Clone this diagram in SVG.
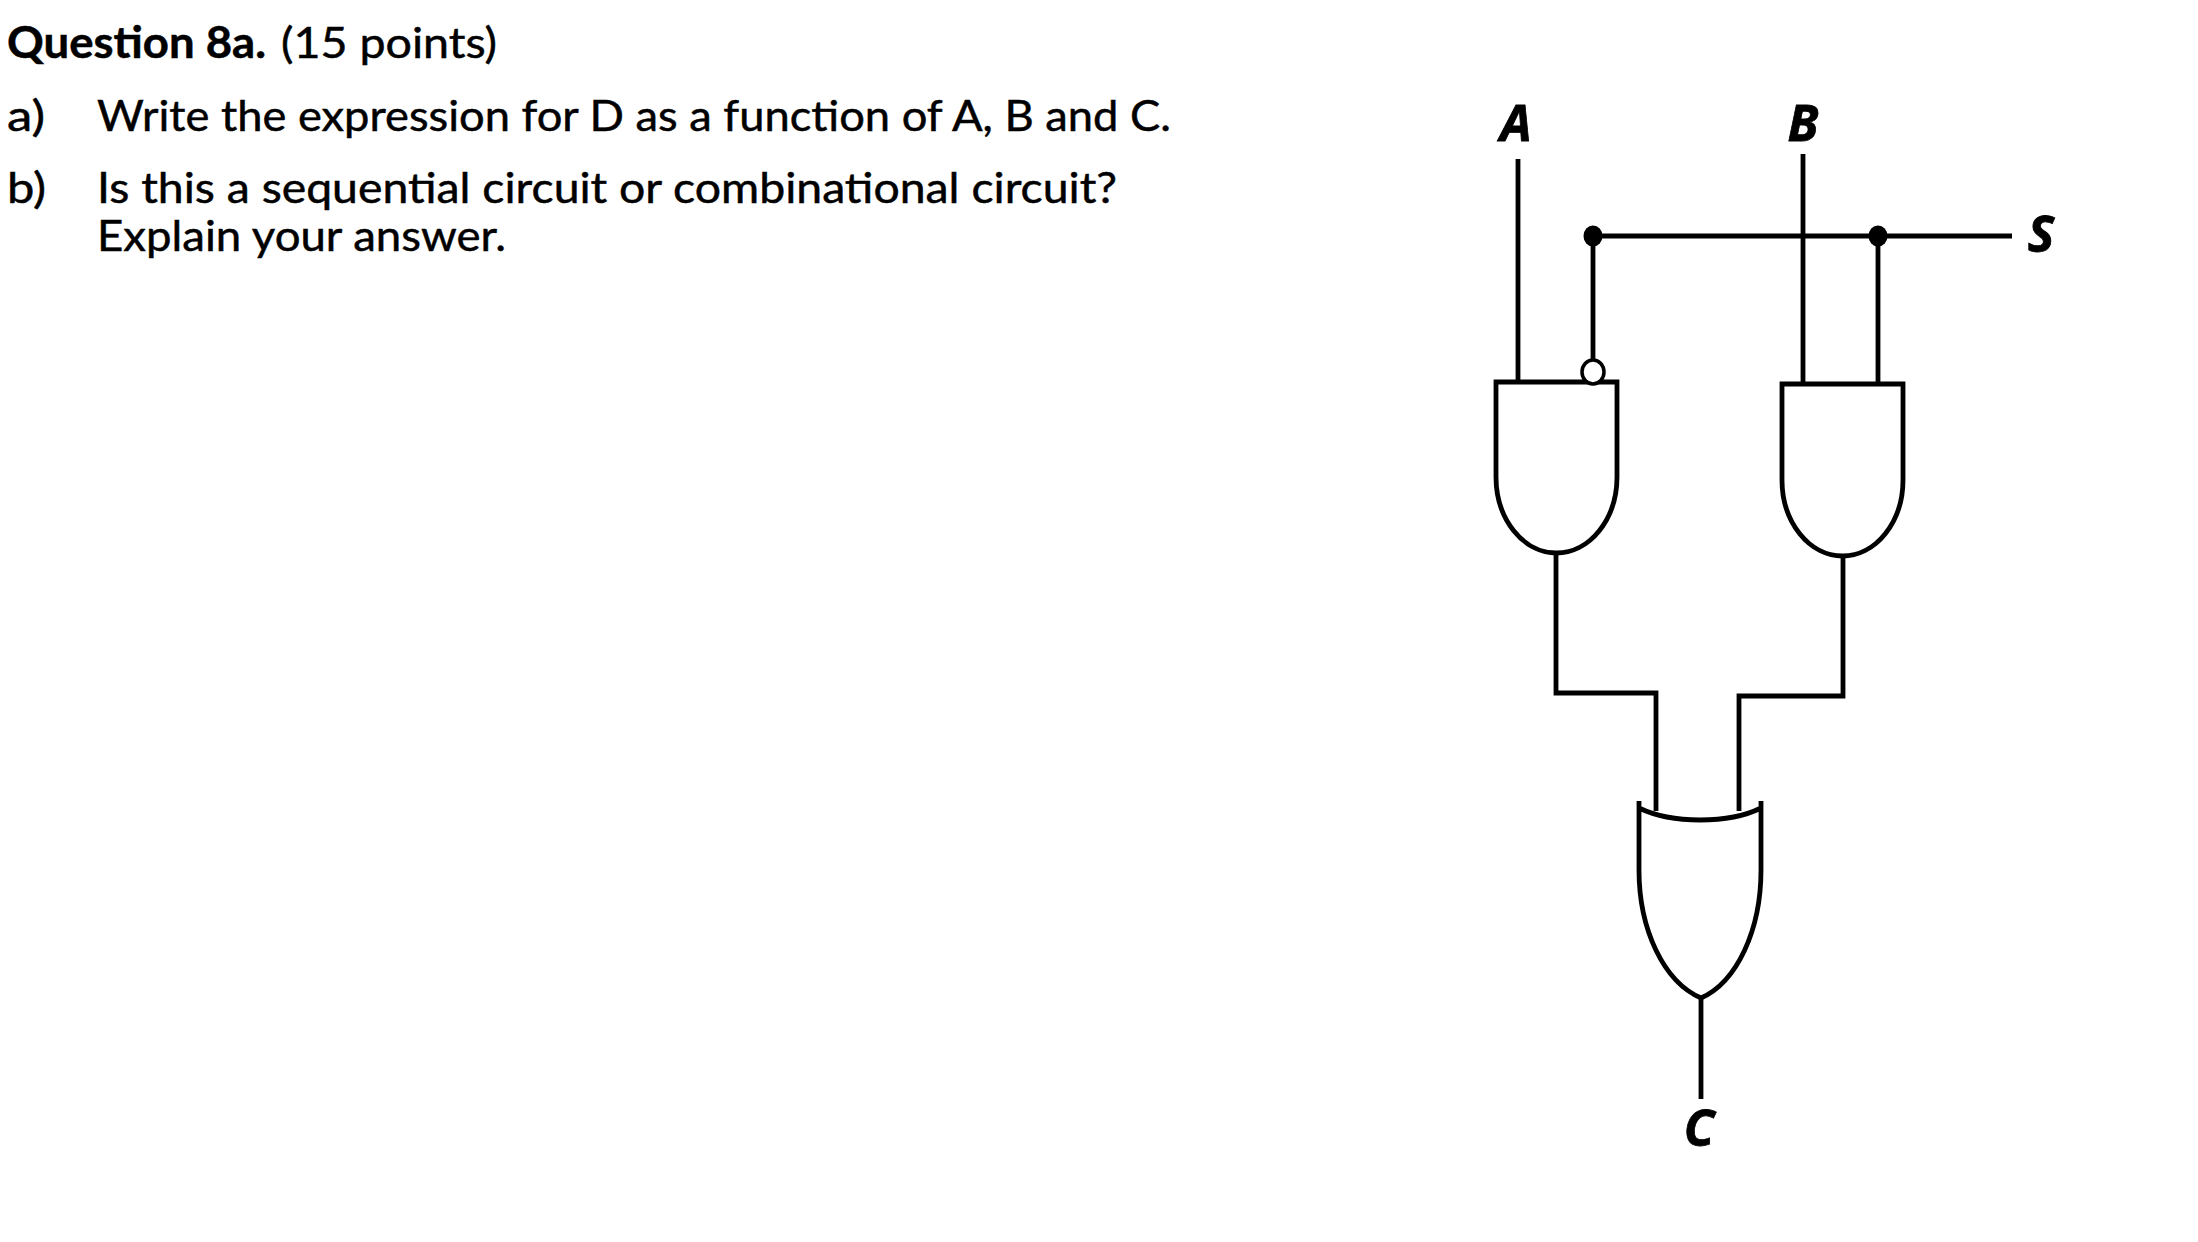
<svg xmlns="http://www.w3.org/2000/svg" width="2198" height="1242" viewBox="0 0 2198 1242">
<style>
.t{font-family:Lato,"Liberation Sans",sans-serif;font-size:43px;fill:#000;stroke:#000;stroke-width:0.500}
.b{font-weight:700}
.l{font-family:"Open Sans","Liberation Sans",sans-serif;font-size:50px;font-weight:700;font-style:italic;fill:#000;stroke:#000;stroke-width:0.800;text-anchor:middle}
.w{fill:none;stroke:#000;stroke-width:4.800;stroke-linejoin:miter;stroke-linecap:butt}
.g{fill:#fff;stroke:#000;stroke-width:4.800;stroke-linejoin:miter}
</style>
<rect width="2198" height="1242" fill="#fff"/>
<g id="question">
<text class="t b" x="7" y="58" textLength="259" lengthAdjust="spacingAndGlyphs">Question 8a.</text>
<text class="t" x="281" y="58" textLength="216" lengthAdjust="spacingAndGlyphs">(15 points)</text>
<text class="t" x="7" y="131" textLength="38" lengthAdjust="spacingAndGlyphs">a)</text>
<text class="t" x="97" y="131" textLength="1074" lengthAdjust="spacingAndGlyphs">Write the expression for D as a function of A, B and C.</text>
<text class="t" x="7" y="203" textLength="39" lengthAdjust="spacingAndGlyphs">b)</text>
<text class="t" x="97" y="203" textLength="1020" lengthAdjust="spacingAndGlyphs">Is this a sequential circuit or combinational circuit?</text>
<text class="t" x="97" y="251" textLength="409" lengthAdjust="spacingAndGlyphs">Explain your answer.</text>
</g>
<g id="connectors">
<path class="w" d="M1518 159V382"/>
<path class="w" d="M1593 236V360"/>
<path class="w" d="M1593 236H2012"/>
<path class="w" d="M1803 154V384"/>
<path class="w" d="M1878 236V384"/>
<path class="w" d="M1556 553V693H1656V811"/>
<path class="w" d="M1843 556V696H1739V811"/>
<path class="w" d="M1701 998V1099"/>
</g>
<g id="gate-and-1">
<path class="g" d="M1496 382H1617V477A60.500 76 0 0 1 1496 477Z"/>
<ellipse id="bubble" cx="1593" cy="372" rx="11" ry="12" fill="#fff" stroke="#000" stroke-width="3.500"/>
</g>
<g id="gate-and-2">
<path class="g" d="M1782 384H1903V480A60.500 76 0 0 1 1782 480Z"/>
</g>
<g id="gate-or">
<path class="g" d="M1639 801V808Q1664 820 1700 820Q1737 820 1761 808V801V870C1761 930 1737 982 1701 998C1664 982 1639 930 1639 870Z"/>
</g>
<g id="junction-1"><ellipse cx="1593" cy="236" rx="9.500" ry="10.500" fill="#000"/></g>
<g id="junction-2"><ellipse cx="1878" cy="236" rx="9.500" ry="10.500" fill="#000"/></g>
<g id="labels">
<text id="label-a" class="l" x="1516" y="141">A</text>
<text id="label-b" class="l" x="1803" y="141">B</text>
<text id="label-s" class="l" x="2041" y="252">S</text>
<text id="label-c" class="l" x="1699" y="1146">C</text>
</g>
</svg>
